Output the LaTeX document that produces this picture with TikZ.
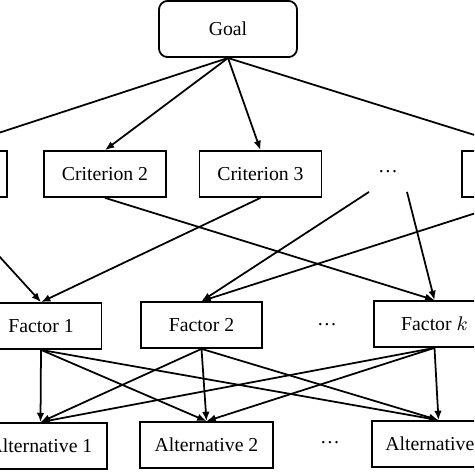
\documentclass[tikz,border=0pt]{standalone}
\usepackage{fontspec}
\setmainfont{Liberation Serif}
\usetikzlibrary{arrows.meta}

\begin{document}
\begin{tikzpicture}[x=0.016cm,y=-0.016cm,font=\fontsize{9}{11}\selectfont,line width=0.8pt,>={Latex[length=0.15cm,width=0.12cm]}]
\tikzset{
  levelbox/.style={draw,rectangle,minimum height=0.736cm,inner sep=0pt},
  goalbox/.style={draw,rounded corners=0.14cm,minimum width=2.21cm,minimum height=0.9cm},
}
\useasboundingbox (0,0) rectangle (474,474);
\clip (0,0) rectangle (474,474);
\node[goalbox] (goal) at (228,29) {Goal};
\node[levelbox,minimum width=1.95cm] (crit1) at (-54,174) {Criterion 1};
\node[levelbox,minimum width=1.95cm] (crit2) at (105,174) {Criterion 2};
\node[levelbox,minimum width=1.95cm] (crit3) at (260.5,174) {Criterion 3};
\node[minimum width=0.58cm,minimum height=0.61cm,inner sep=0pt] (critdots) at (388,172) {\dots};
\node[levelbox,minimum width=1.95cm] (critn) at (523,174) {Criterion $n$};
\node[levelbox,minimum width=1.94cm] (fac1) at (41,326) {Factor 1};
\node[levelbox,minimum width=1.94cm] (fac2) at (201.5,325) {Factor 2};
\node (facdots) at (327,325) {\dots};
\node[levelbox,minimum width=1.94cm] (fack) at (434.5,324) {Factor $k$};
\node[levelbox,minimum width=2.13cm] (alt1) at (40.5,446) {Alternative 1};
\node[levelbox,minimum width=2.13cm] (alt2) at (206.5,445) {Alternative 2};
\node (altdots) at (330,443) {\dots};
\node[levelbox,minimum width=2.13cm] (altn) at (438.5,444) {Alternative $n$};
\foreach \crit in {crit1,crit2,crit3,critn} {
  \draw[->] (goal.south) -- (\crit.north);
}
\draw[->] (crit1.south) -- (fac1.north);
\draw[->] (crit3.south) -- (fac1.north);
\draw[->] (crit2.south) -- (fack.north);
\draw[->] (critdots.south west) -- (fac2.north);
\draw[->] (critdots.south east) -- (fack.north);
\draw[->] (critn.south) -- (fac2.north);
\foreach \fac in {fac1,fac2,fack} {
  \foreach \alt in {alt1,alt2,altn} {
    \draw[->] (\fac.south) -- (\alt.north);
  }
}
\end{tikzpicture}
\end{document}
